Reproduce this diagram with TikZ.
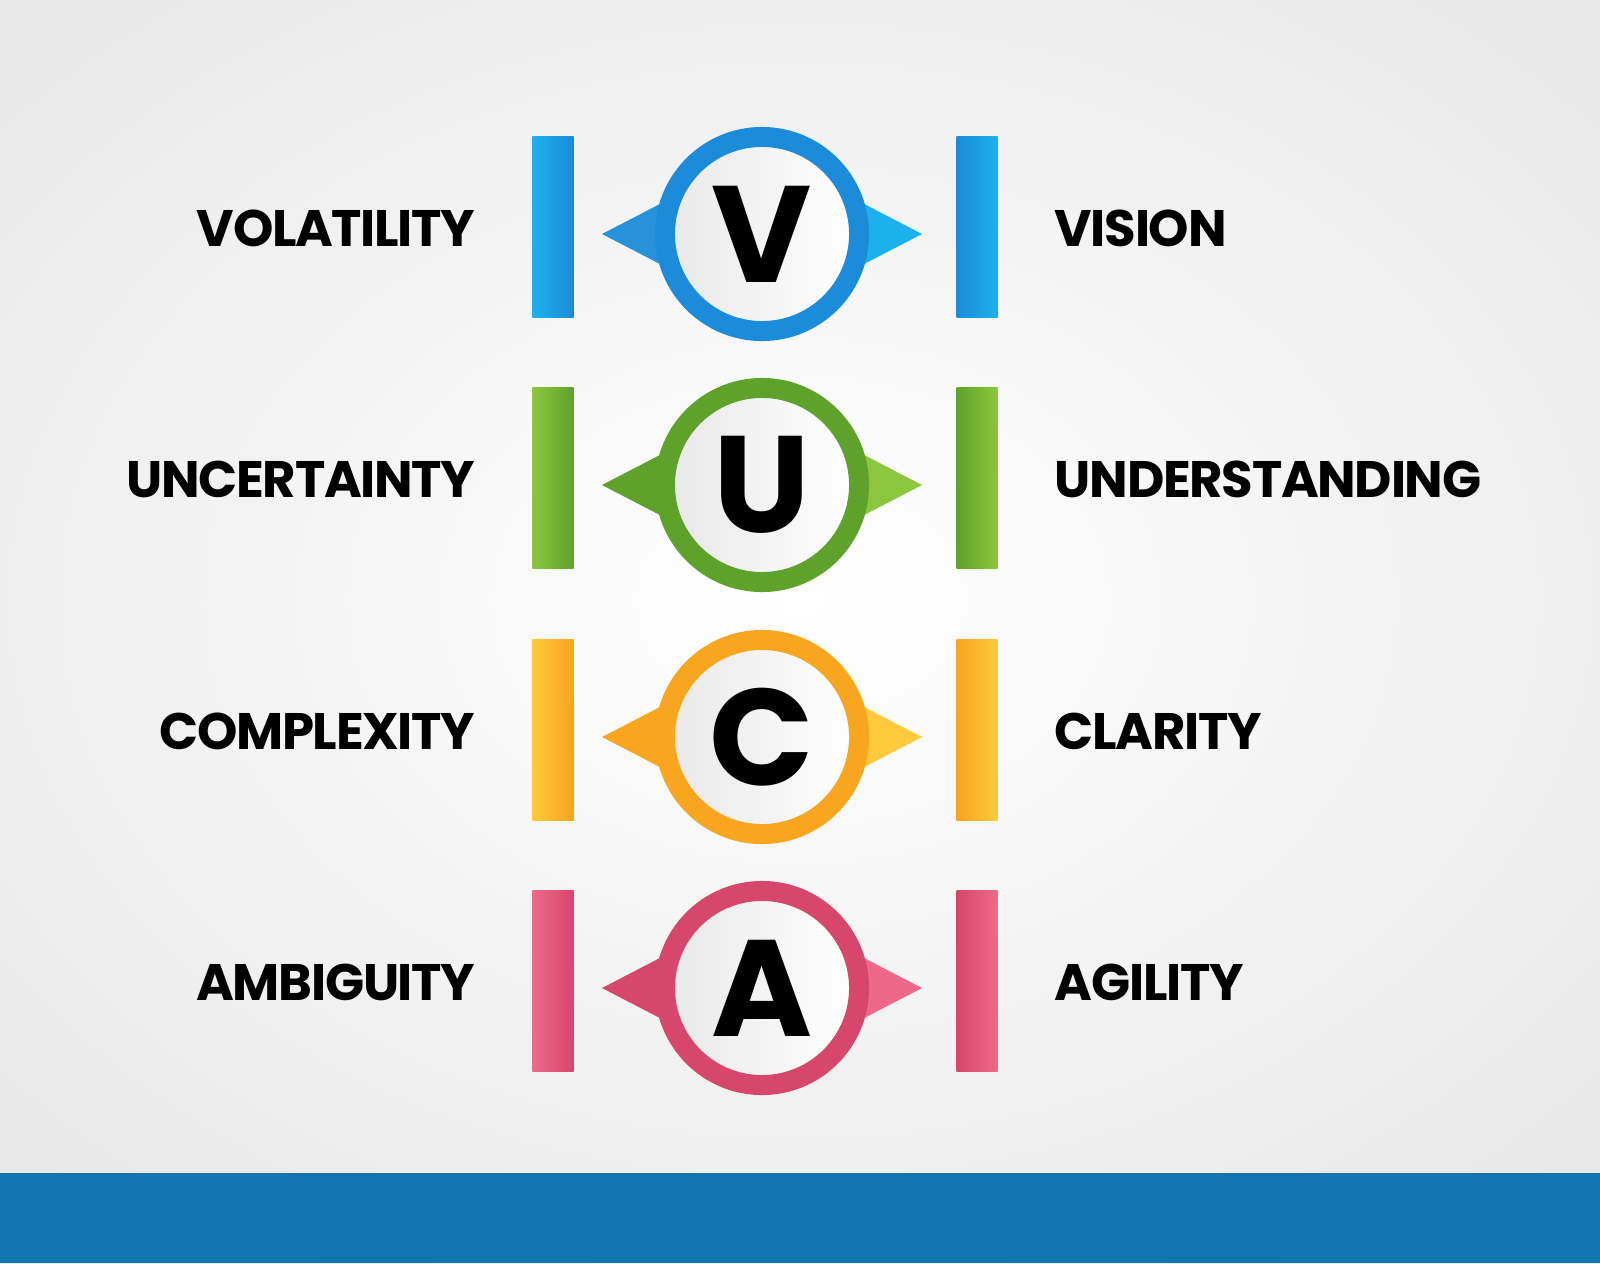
\documentclass[tikz,border=0pt]{standalone}
\usepackage{fontspec}
\setmainfont{Poppins}
\newfontfamily\tightfont{Poppins}[LetterSpace=-2.5]
\definecolor{vlight}{HTML}{1DB0EE}
\definecolor{vdark}{HTML}{1C8BD9}
\definecolor{ulight}{HTML}{8CC63F}
\definecolor{udark}{HTML}{5FA22B}
\definecolor{clight}{HTML}{FFC93C}
\definecolor{cdark}{HTML}{F8A51F}
\definecolor{alight}{HTML}{EC6A88}
\definecolor{adark}{HTML}{D7466C}
\definecolor{footblue}{HTML}{1077AE}
\tikzset{
  bar/.style={rectangle, minimum width=0.41cm, minimum height=1.81cm, inner sep=0pt},
  ring/.style={circle, minimum size=1.94cm, line width=0.2cm, inner sep=0pt,
    left color=black!9, right color=white,
    font=\fontsize{39}{39}\selectfont\bfseries},
  word/.style={font=\tightfont\fontsize{14.6}{14.6}\selectfont\bfseries, inner sep=0pt},
}
\begin{document}
\begin{tikzpicture}[x=0.01cm, y=-0.01cm]
                \useasboundingbox (0,0) rectangle (1600,1263);
                \shade[inner color=white, outer color=black!9] (-300,-200) rectangle (1900,1400);
                \fill[footblue] (0,1173) rectangle (1600,1263);

                % V row
                \node[bar, left color=vlight, right color=vdark] (vl) at (553,227) {};
                \node[bar, left color=vdark, right color=vlight] (vr) at (977,227) {};
                \node[word, anchor=east] (volatility) at (476,228) {VOLATILITY};
                \node[word, anchor=west] (vision) at (1054,228) {VISION};
                \fill[vdark!95!white] (762,234) ++(-160,0) -- ++(160,-83) -- ++(0,166) -- cycle;
                \fill[vlight] (762,234) ++(160,0) -- ++(-160,-83) -- ++(0,166) -- cycle;
                \node[ring, draw=vdark] (vc) at (762,234) {V};

                % U row
                \node[bar, left color=ulight, right color=udark] (ul) at (553,478) {};
                \node[bar, left color=udark, right color=ulight] (ur) at (977,478) {};
                \node[word, anchor=east] (uncertainty) at (476,479) {UNCERTAINTY};
                \node[word, anchor=west] (understanding) at (1054,479) {UNDERSTANDING};
                \fill[udark] (762,485) ++(-160,0) -- ++(160,-83) -- ++(0,166) -- cycle;
                \fill[ulight] (762,485) ++(160,0) -- ++(-160,-83) -- ++(0,166) -- cycle;
                \node[ring, draw=udark] (uc) at (762,485) {U};

                % C row
                \node[bar, left color=clight, right color=cdark] (cl) at (553,730) {};
                \node[bar, left color=cdark, right color=clight] (cr) at (977,730) {};
                \node[word, anchor=east] (complexity) at (476,731) {COMPLEXITY};
                \node[word, anchor=west] (clarity) at (1054,731) {CLARITY};
                \fill[cdark] (762,737) ++(-160,0) -- ++(160,-83) -- ++(0,166) -- cycle;
                \fill[clight] (762,737) ++(160,0) -- ++(-160,-83) -- ++(0,166) -- cycle;
                \node[ring, draw=cdark] (cc) at (762,737) {C};

                % A row
                \node[bar, left color=alight, right color=adark] (al) at (553,981) {};
                \node[bar, left color=adark, right color=alight] (ar) at (977,981) {};
                \node[word, anchor=east] (ambiguity) at (476,982) {AMBIGUITY};
                \node[word, anchor=west] (agility) at (1054,982) {AGILITY};
                \fill[adark] (762,988) ++(-160,0) -- ++(160,-83) -- ++(0,166) -- cycle;
                \fill[alight] (762,988) ++(160,0) -- ++(-160,-83) -- ++(0,166) -- cycle;
                \node[ring, draw=adark] (ac) at (762,988) {A};
            \end{tikzpicture}
\end{document}
